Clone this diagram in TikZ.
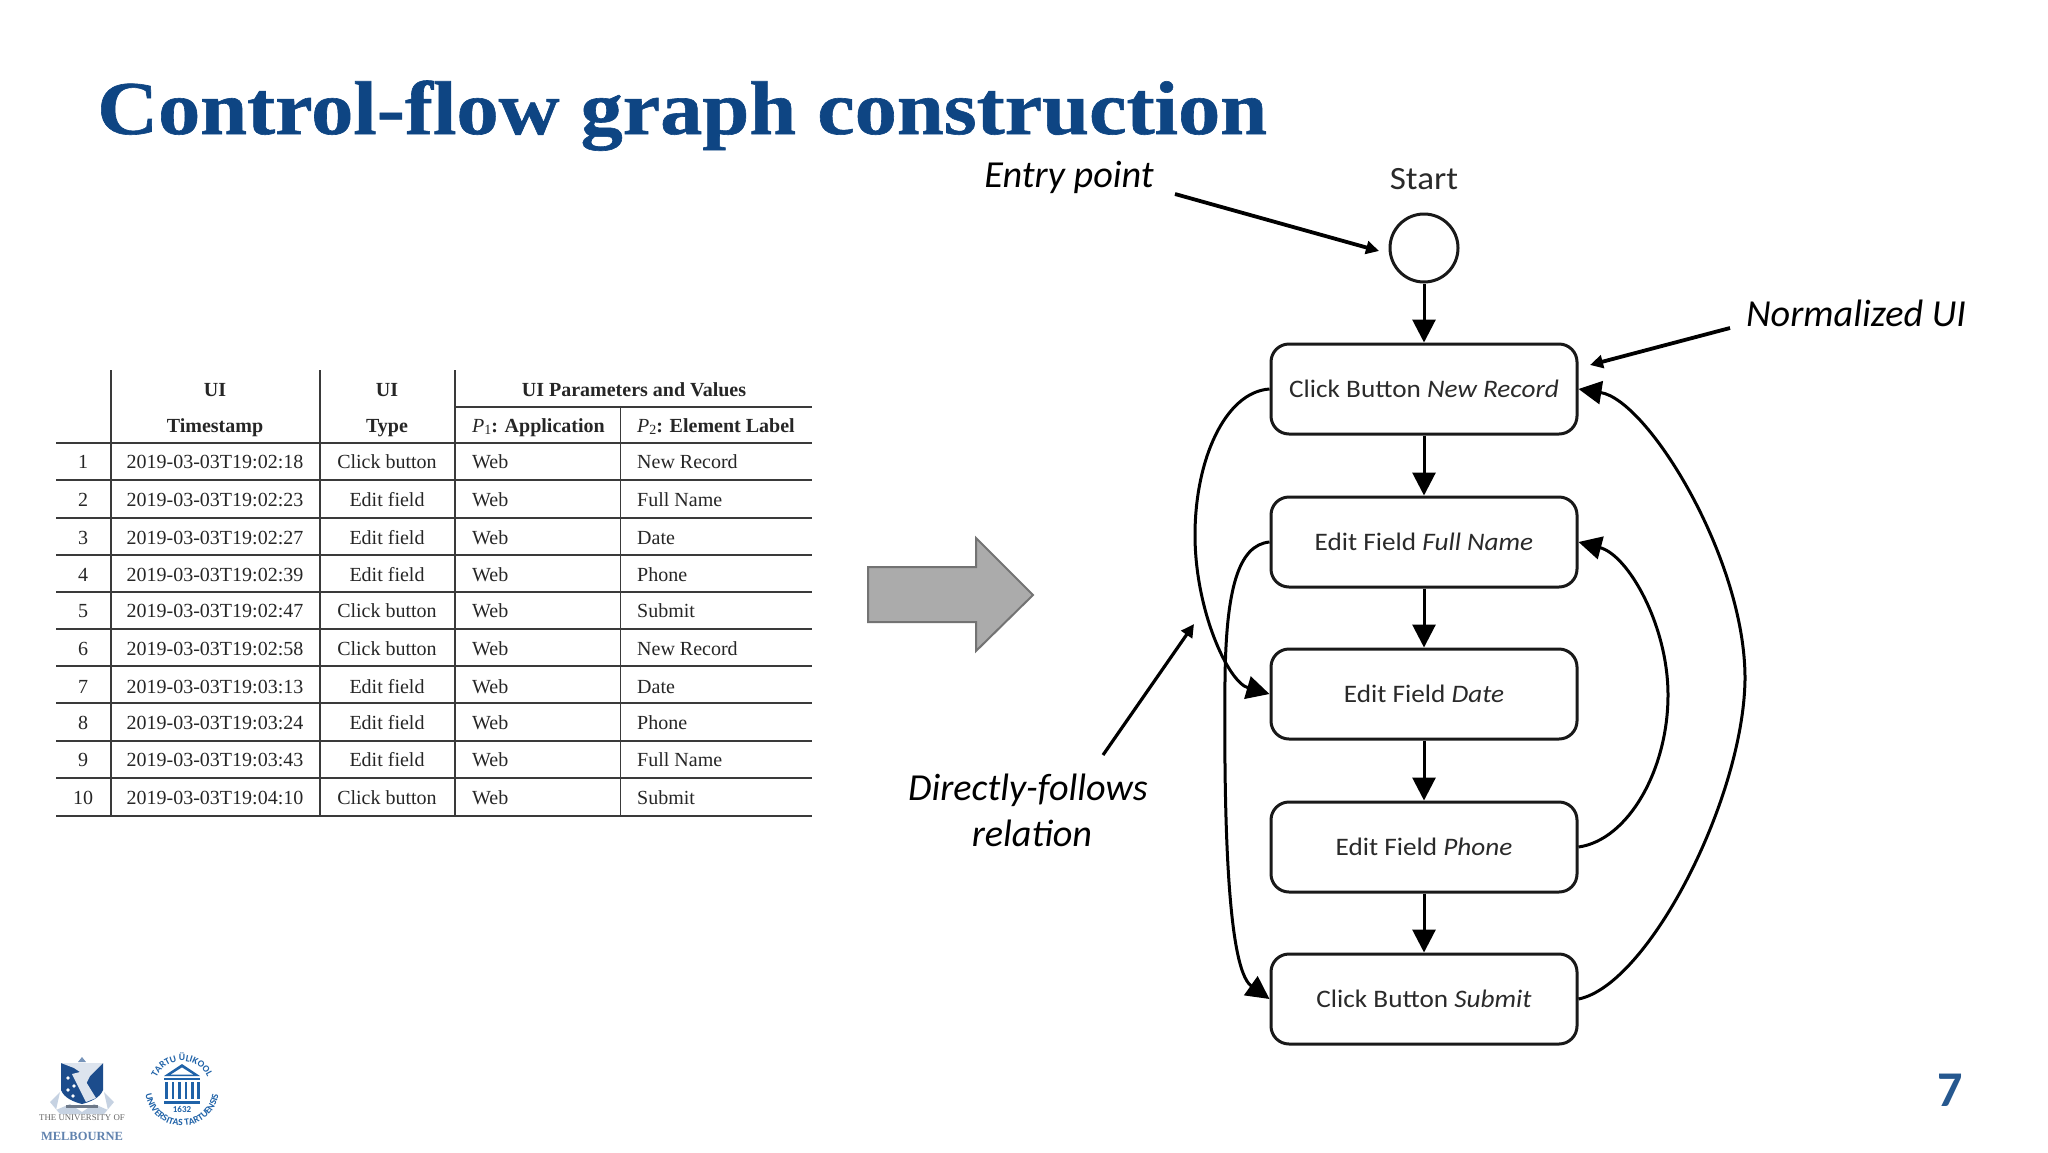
\documentclass[tikz,border=0pt]{standalone}
\usepackage{fontspec}
\usetikzlibrary{arrows.meta,decorations.text,calc}
\setmainfont{Liberation Serif}
\newfontfamily\calfont{Carlito}
\newfontfamily\boxfont[FakeStretch=1.08]{Carlito}
\newfontfamily\titlefont[FakeStretch=1.11,FakeBold=0.8]{Liberation Serif}
\definecolor{titleblue}{HTML}{0E4583}
\definecolor{tablegrey}{HTML}{3A3A3A}
\definecolor{boxtext}{HTML}{2A2A2A}
\definecolor{sealblue}{HTML}{1F62A8}
\definecolor{crestblue}{HTML}{1C4C8C}
\tikzset{
  x=1pt,y=-1pt,
  tabcell/.style={inner sep=0pt,font=\fontsize{20}{20}\selectfont,text=black!85},
  tabhead/.style={tabcell,font=\fontsize{20}{20}\selectfont\bfseries},
  tabrule/.style={draw=tablegrey,line width=1.6pt},
  flowbox/.style={draw=black!90,line width=3pt,rounded corners=18pt,minimum width=306pt,minimum height=90pt,inner sep=0pt,font=\boxfont\fontsize{25.2}{26}\selectfont,text=boxtext},
  flow/.style={draw=black,line width=3pt,-{Triangle[width=23pt,length=23pt]}},
  note/.style={inner sep=0pt,font=\calfont\itshape\fontsize{38.2}{38}\selectfont,text=black},
  callout/.style={draw=black,line width=3.8pt,-{Triangle[width=13pt,length=13pt]}},
}
\begin{document}
\begin{tikzpicture}
\useasboundingbox (0,0) rectangle (2048,1152);
\fill[white] (0,0) rectangle (2048,1152);
% title
\node[anchor=base west,inner sep=0pt,text=titleblue,font=\titlefont\bfseries\fontsize{76}{76}\selectfont] (title) at (97,134) {Control-flow graph construction};
% table rules
\foreach \yy in {443,480,518,555,592,629,666,703,741,778,816}
  \draw[tabrule] (56,\yy) -- (812,\yy);
\draw[tabrule] (455,407) -- (812,407);
\draw[tabrule] (111,370) -- (111,816);
\draw[tabrule] (320,370) -- (320,816);
\draw[tabrule] (455,370) -- (455,816);
\draw[tabrule] (620.5,407) -- (620.5,816);
% table header
\node[tabhead,anchor=base] (h1) at (215,396) {UI};
\node[tabhead,anchor=base] (h2) at (387,396) {UI};
\node[tabhead,anchor=base] (h3) at (634,396) {UI Parameters and Values};
\node[tabhead,anchor=base] (h4) at (215,432) {Timestamp};
\node[tabhead,anchor=base] (h5) at (387,432) {Type};
\node[tabhead,anchor=base west] (h6) at (472,432) {\textit{\mdseries P}\raisebox{-2pt}{\mdseries\fontsize{14}{14}\selectfont 1}: Application};
\node[tabhead,anchor=base west] (h7) at (637,432) {\textit{\mdseries P}\raisebox{-2pt}{\mdseries\fontsize{14}{14}\selectfont 2}: Element Label};
% table rows
\foreach \i/\yy/\ts/\ty/\lb in {
  1/468/2019-03-03T19:02:18/Click button/New Record,
  2/506/2019-03-03T19:02:23/Edit field/Full Name,
  3/544/2019-03-03T19:02:27/Edit field/Date,
  4/581/2019-03-03T19:02:39/Edit field/Phone,
  5/617/2019-03-03T19:02:47/Click button/Submit,
  6/655/2019-03-03T19:02:58/Click button/New Record,
  7/693/2019-03-03T19:03:13/Edit field/Date,
  8/729/2019-03-03T19:03:24/Edit field/Phone,
  9/766/2019-03-03T19:03:43/Edit field/Full Name,
  10/804/2019-03-03T19:04:10/Click button/Submit}{
  \node[tabcell,anchor=base] (n\i) at (83,\yy) {\i};
  \node[tabcell,anchor=base] (ts\i) at (215,\yy) {\ts};
  \node[tabcell,anchor=base] (ty\i) at (387,\yy) {\ty};
  \node[tabcell,anchor=base west] (ap\i) at (472,\yy) {Web};
  \node[tabcell,anchor=base west] (lb\i) at (637,\yy) {\lb};
}
% big arrow
\path[fill=black!33,draw=black!55,line width=2pt] (868,567) -- (976,567) -- (976,538) -- (1033,595) -- (976,651) -- (976,622) -- (868,622) -- cycle;
% graph
\node[inner sep=0pt,font=\boxfont\fontsize{32.5}{32}\selectfont,text=boxtext] (start) at (1424,179) {Start};
\node[circle,draw=black!90,line width=3pt,minimum size=68pt,inner sep=0pt] (s) at (1424,248) {};
\node[flowbox] (b1) at (1424,389) {\raisebox{-1pt}{Click Button \textit{New Record}}};
\node[flowbox] (b2) at (1424,542) {\raisebox{-1pt}{Edit Field \textit{Full Name}}};
\node[flowbox] (b3) at (1424,694) {\raisebox{-1pt}{Edit Field \textit{Date}}};
\node[flowbox] (b4) at (1424,847) {\raisebox{-1pt}{Edit Field \textit{Phone}}};
\node[flowbox] (b5) at (1424,999) {\raisebox{-1pt}{Click Button \textit{Submit}}};
\draw[flow] (s.south) -- (b1.north);
\draw[flow] (b1.south) -- (b2.north);
\draw[flow] (b2.south) -- (b3.north);
\draw[flow] (b3.south) -- (b4.north);
\draw[flow] (b4.south) -- (b5.north);
\draw[flow] (b1.west) .. controls (1225,392) and (1195,460) .. (1195,535) .. controls (1195,610) and (1228,682) .. (b3.west);
\draw[flow] (b2.west) .. controls (1238,545) and (1226,590) .. (1225,680) .. controls (1224,800) and (1226,968) .. (b5.west);
\draw[flow] (b4.east) .. controls (1628,840) and (1668,770) .. (1668,695) .. controls (1668,625) and (1628,555) .. (b2.east);
\draw[flow] (b5.east) .. controls (1648,985) and (1743,800) .. (1745,680) .. controls (1746,560) and (1648,400) .. (b1.east);
% callouts
\node[note,anchor=base] (entry) at (1069,187) {Entry point};
\node[note,anchor=base] (norm) at (1856,326) {Normalized UI};
\node[note,anchor=base] (dir1) at (1028,800) {Directly-follows};
\node[note,anchor=base] (dir2) at (1032,846) {relation};
\coordinate (e0) at (1175,194);
\coordinate (e1) at (1379,251);
\coordinate (n0) at (1730,328);
\coordinate (n1) at (1590,365);
\coordinate (d0) at (1103,755);
\coordinate (d1) at (1194,624);
\draw[callout] (e0) -- (e1);
\draw[callout] (n0) -- (n1);
\draw[callout,line width=3.2pt] (d0) -- (d1);
% page number
\node[inner sep=0pt,text=titleblue!90,font=\calfont\bfseries\fontsize{50}{50}\selectfont] (page) at (1950,1090) {7};
% Melbourne logo
\begin{scope}[shift={(82,1084)},x=1pt,y=1pt]
  \fill[crestblue!25] (-32,-18) -- (-22,-8) -- (-26,-26) -- (-12,-20) -- (0,-28) -- (12,-20) -- (26,-26) -- (22,-8) -- (32,-18) -- (22,-30) -- (-22,-30) -- cycle;
  \fill[crestblue] (-21,21) -- (21,21) -- (21,-6) .. controls (18,-14) and (8,-18) .. (0,-20) .. controls (-8,-18) and (-18,-14) .. (-21,-6) -- cycle;
  \fill[white!85!crestblue] (-21,21) -- (21,21) -- (8,8) -- (2,-4) -- (-2,12) -- (-8,16) -- cycle;
  \fill[white!85!crestblue] (4,-18) -- (-10,10) -- (-2,12) -- (14,-14) -- cycle;
  \foreach \px/\py in {-14/6,-8/-2,-14/-6,-9/-12}
    \fill[white] (\px,\py) circle (1.8pt);
  \fill[crestblue!60] (-4,22) -- (0,27) -- (4,22) -- cycle;
  \fill[crestblue!40!black!60] (-16,-24) rectangle (16,-21);
\end{scope}
\node[inner sep=0pt,text=black!60,font=\fontsize{8.8}{9}\selectfont] (mel1) at (82,1118) {THE UNIVERSITY OF};
\node[inner sep=0pt,text=crestblue!70!white,font=\bfseries\fontsize{12.5}{13}\selectfont] (mel2) at (82,1136) {MELBOURNE};
% Tartu logo
\begin{scope}[shift={(182,1089)},x=1pt,y=1pt]
  \path[decorate,decoration={text along path,text align=center,text={|\calfont\bfseries\fontsize{9.6}{10}\selectfont\color{sealblue}|TARTU ÜLIKOOL}}] (165:28) arc (165:15:28);
  \path[decorate,decoration={text along path,text align=center,text={|\calfont\bfseries\fontsize{9.6}{10}\selectfont\color{sealblue}|UNIVERSITAS TARTUENSIS}}] (175:37) arc (175:365:37);
  \fill[sealblue] (-18,13) -- (0,25) -- (18,13) -- cycle;
  \fill[white] (-11,14.5) -- (0,21.5) -- (11,14.5) -- cycle;
  \fill[sealblue] (-18,11) rectangle (18,9);
  \foreach \cx in {-17,-10.5,-4,2.5,9,15}
    \fill[sealblue] (\cx,7) rectangle (\cx+2.6,-10);
  \fill[sealblue] (-18,-12) rectangle (18,-15);
  \node[inner sep=0pt,text=sealblue,font=\calfont\bfseries\fontsize{9}{9}\selectfont] (yr) at (0,-20) {1632};
\end{scope}
\end{tikzpicture}
\end{document}
